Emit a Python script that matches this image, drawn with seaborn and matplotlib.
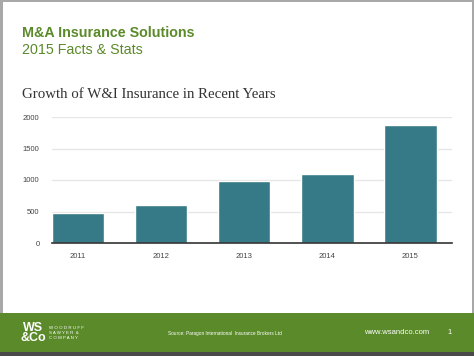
import numpy as np
import pandas as pd
import seaborn as sns
from matplotlib import pyplot as plt
from matplotlib.patches import Rectangle

# data
years = ["2011", "2012", "2013", "2014", "2015"]
policies = [480, 600, 980, 1100, 1870]
yticks = [0, 500, 1000, 1500, 2000]

green = "#5b8a2a"
teal = "#367a87"

sns.set_style("white")
plt.rcParams['font.family'] = ['Liberation Sans', 'DejaVu Sans']

df = pd.DataFrame({"year": years, "n": policies})

fig = plt.figure(figsize=(4.74, 3.56), dpi=100)
W, H = 474, 356

def box(x, y, w, h, c):
    fig.patches.append(Rectangle((x / W, 1 - (y + h) / H), w / W, h / H,
                                 transform=fig.transFigure, color=c, zorder=0,
                                 linewidth=0))

# slide frame and footer
box(0, 0, W, 2, "#a8a8a8")
box(0, 0, 3, H, "#a8a8a8")
box(472, 0, 2, H, "#a8a8a8")
box(0, 313, W, 40, green)
box(0, 352, W, 4, "#4a4a4a")

fig.text(22 / W, 1 - 37 / H, "M&A Insurance Solutions", color=green,
         fontsize=10.3, fontweight="bold", va="baseline")
fig.text(22 / W, 1 - 54 / H, "2015 Facts & Stats", color=green,
         fontsize=10.3, va="baseline")
fig.text(22 / W, 1 - 98 / H, "Growth of W&I Insurance in Recent Years",
         color="#333333", fontsize=10.7, family="Liberation Serif", va="baseline")

ax = fig.add_axes([52 / W, 1 - 243 / H, 400 / W, 126 / H])
sns.barplot(data=df, x="year", y="n", color=teal, width=0.63, saturation=1, ax=ax)
ax.set_xlim(-0.315, 4.5)
ax.set_ylim(0, 2000)
ax.set_yticks(yticks)
ax.set_yticklabels([str(v) for v in yticks])
ax.set_xlabel("")
ax.set_ylabel("")
ax.yaxis.grid(True, color="#e6e6e6", linewidth=1)
ax.set_axisbelow(True)
for s in ["top", "right", "left"]:
    ax.spines[s].set_visible(False)
ax.spines["bottom"].set_color("#333333")
ax.spines["bottom"].set_linewidth(1.2)
ax.tick_params(axis="both", length=0, labelsize=5.5, labelcolor="#444444")
ax.tick_params(axis="y", pad=9)
ax.tick_params(axis="x", pad=7)

# footer texts
fig.text(225 / W, 1 - 333 / H, "Source: Paragon International  Insurance Brokers Ltd",
         color="white", fontsize=3.4, ha="center", va="center")
fig.text(397 / W, 1 - 332 / H, "www.wsandco.com", color="white",
         fontsize=5.5, ha="center", va="center")
fig.text(450 / W, 1 - 332 / H, "1", color="white", fontsize=5.5,
         ha="center", va="center")
fig.text(33 / W, 1 - 333 / H, "WS\n&Co", color="white", fontsize=9,
         fontweight="bold", ha="center", va="center", linespacing=0.75)
fig.text(49 / W, 1 - 333 / H, "W O O D R U F F\nS A W Y E R  &\nC O M P A N Y",
         color="white", fontsize=3.2, ha="left", va="center", linespacing=1.4)

fig.savefig("out.png", dpi=100)
